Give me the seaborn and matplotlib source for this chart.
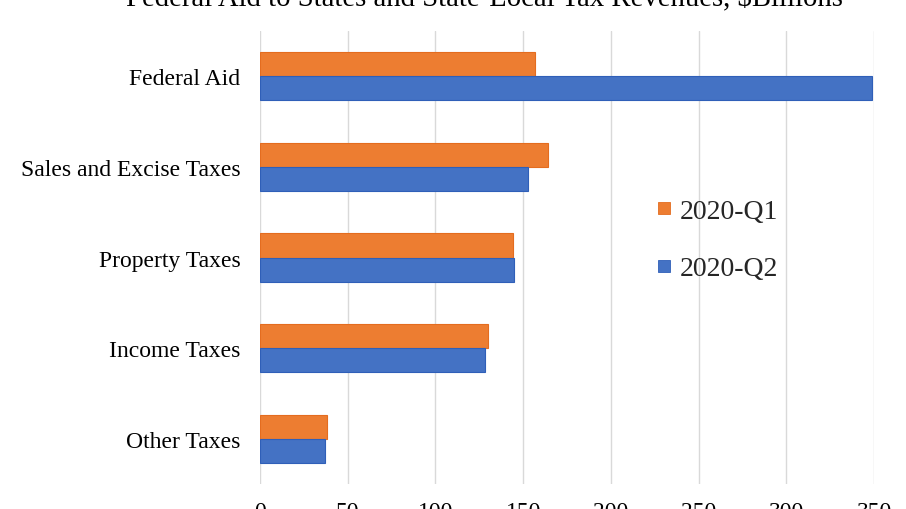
import matplotlib
matplotlib.use("Agg")
import matplotlib.pyplot as plt
from matplotlib.lines import Line2D
import seaborn as sns
import pandas as pd

categories = ["Federal Aid", "Sales and Excise Taxes", "Property Taxes", "Income Taxes", "Other Taxes"]
q1_values = [157, 164, 144, 130, 38]
q2_values = [349, 153, 145, 128, 37]
series = ["2020-Q1", "2020-Q2"]
colors = ["#ED7D31", "#4472C4"]
edge_colors = ["#E46C1F", "#2F5FB8"]
x_ticks = [0, 50, 100, 150, 200, 250, 300, 350]
title = "Federal Aid to States and State-Local Tax Revenues, $Billions"

df = pd.DataFrame({
    "category": categories * 2,
    "value": q1_values + q2_values,
    "series": [series[0]] * len(categories) + [series[1]] * len(categories),
})

sns.set_theme(style="white")
plt.rcParams["font.family"] = ["Liberation Serif", "DejaVu Serif"]

fig = plt.figure(figsize=(9.06, 5.10), dpi=100)
ax = fig.add_axes([260 / 906, 1 - 485 / 510, (874 - 260) / 906, (485 - 32) / 510])

sns.barplot(data=df, y="category", x="value", hue="series", order=categories,
            hue_order=series, palette=colors, orient="h", width=0.53,
            legend=False, ax=ax, saturation=1)

n = len(categories)
for i, patch in enumerate(ax.patches[:2 * n]):
    patch.set_edgecolor(edge_colors[i // n])
    patch.set_linewidth(0.8)

ax.set_xlim(0, 350)
ax.set_ylim(len(categories) - 0.5, -0.5)
ax.set_xticks(x_ticks)
ax.set_xticklabels([str(t) for t in x_ticks])
ax.set_xlabel("")
ax.set_ylabel("")
ax.grid(axis="x", color="#D9D9D9", linewidth=1.0)
ax.grid(axis="y", visible=False)
ax.set_axisbelow(True)
for s in ax.spines.values():
    s.set_visible(False)
ax.tick_params(axis="both", length=0, labelsize=17, colors="black")
ax.tick_params(axis="x", pad=12)
ax.tick_params(axis="y", pad=14)

fig.text(484 / 906, 1 - 5 / 510, title, ha="center", va="baseline", fontsize=20.7, color="black")

handles = [Line2D([0], [0], marker="s", linestyle="none", markersize=8,
                  markerfacecolor=c, markeredgecolor=e, markeredgewidth=0.6)
           for c, e in zip(colors, edge_colors)]
fig.legend(handles, series, loc="center left", bbox_to_anchor=(656 / 906, 1 - 241 / 510),
           frameon=False, fontsize=20, handlelength=0.6, handletextpad=0.25,
           labelspacing=1.15, borderpad=0, borderaxespad=0)

fig.savefig("out.png", dpi=100)
